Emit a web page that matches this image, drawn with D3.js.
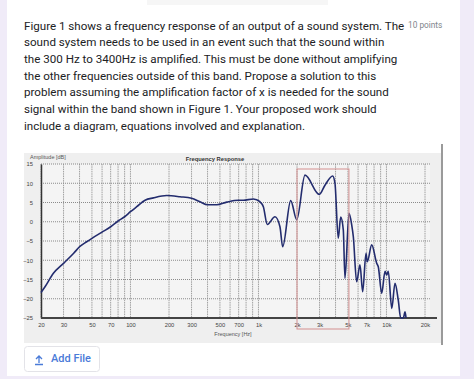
<!DOCTYPE html>
<html><head><meta charset="utf-8">
<script src="https://cdn.jsdelivr.net/npm/d3@7"></script>
<style>html,body{margin:0;padding:0;background:#f0ebf8;}svg{display:block;}</style>
</head><body>
<svg id="c" width="474" height="379"></svg>
<script>
const questionLines = [
  "Figure 1 shows a frequency response of an output of a sound system. The",
  "sound system needs to be used in an event such that the sound within",
  "the 300 Hz to 3400Hz is amplified. This must be done without amplifying",
  "the other frequencies outside of this band. Propose a solution to this",
  "problem assuming the amplification factor of x is needed for the sound",
  "signal within the band shown in Figure 1. Your proposed work should",
  "include a diagram, equations involved and explanation."
];
const pointsLabel = "10 points";
const freqHz = [20,21.5,25,30,36,40,45.5,50,60,70,80,90,100,112,130,151,192,244,300,349,400,472,565,695,761,912,1028,1092,1172,1346,1472,1546,1786,1990,2310,2988,3308,3800,3960,4200,4390,4600,4740,5100,5350,5510,5850,6210,6520,6920,7080,7670,8390,8630,9180,9740,10040,10330,11000,11660,12360,12920,13540,13970,14220];
const ampDb = [-18.4,-16.9,-13.4,-10.8,-8.2,-6.5,-5.2,-4.3,-2.7,-1.3,0.2,1.3,2.6,3.9,5.6,6.2,6.8,6.5,6.1,5.2,4.4,4.4,5.1,5.6,5.6,5.9,5.2,3.9,-0.7,1.3,-1.3,-6.5,5.5,0.5,12.1,7.1,9.5,11.9,10,-4.3,1.2,-2.1,-14.7,2.2,-0.8,-3.9,-15.6,-11.2,-18.2,-8.2,-10.4,-6.0,-10.8,-11.7,-18.6,-12.9,-13.8,-12.9,-22.5,-16,-20.3,-25,-25,-23.4,-25];
const yTicks = [15,10,5,0,-5,-10,-15,-20,-25];
const xGrid = [20,30,40,50,60,70,80,90,100,200,300,400,500,600,700,800,900,1000,2000,3000,4000,5000,6000,7000,8000,9000,10000,20000];
const xTickValues = [20,30,50,70,100,200,300,500,700,1000,2000,3000,5000,7000,10000,20000];
const xTickLabels = ["20","30","50","70","100","200","300","500","700","1k","2k","3k","5k","7k","10k","20k"];
const band = [2000, 5000];

const svg = d3.select("#c");
// card
svg.append("rect").attr("x",7).attr("y",0).attr("width",453).attr("height",376).attr("fill","#ffffff");
svg.append("rect").attr("x",147).attr("y",0).attr("width",181).attr("height",5).attr("fill","#f6f6f6");

const txt = svg.append("g").attr("font-family","Roboto, 'Open Sans', sans-serif").attr("fill","#202124");
questionLines.forEach((l,i)=>{
  txt.append("text").attr("x",24).attr("y",29.5+i*16.7).attr("font-size",11.6).text(l);
});
svg.append("text").attr("x",408).attr("y",28).attr("font-family","Roboto, sans-serif").attr("font-size",8.3).attr("fill","#80868b").text(pointsLabel);

// chart image
svg.append("rect").attr("x",24).attr("y",153).attr("width",418).attr("height",190).attr("fill","#efefef");
svg.append("line").attr("x1",442).attr("x2",442).attr("y1",144).attr("y2",345).attr("stroke","#9a9a9a").attr("stroke-width",2);

const x = d3.scaleLog().domain([20,20000]).range([41,425]);
const y = d3.scaleLinear().domain([-25,15]).range([318,164]);

const g = svg.append("g");
g.append("rect").attr("x",41).attr("y",164).attr("width",389).attr("height",154).attr("fill","#f4f4f4");
// horizontal grid
g.selectAll(".hg").data(yTicks).join("line")
  .attr("x1",41).attr("x2",430).attr("y1",d=>y(d)).attr("y2",d=>y(d))
  .attr("stroke","#707070").attr("stroke-width",0.8).attr("stroke-dasharray","1,1");
// vertical grid
g.selectAll(".vg").data(xGrid).join("line")
  .attr("x1",d=>x(d)).attr("x2",d=>x(d)).attr("y1",164).attr("y2",318)
  .attr("stroke","#8c8c8c").attr("stroke-width",0.8).attr("stroke-dasharray","1.5,0.8");

// axes
const yAxis = d3.axisLeft(y).tickValues(yTicks).tickSize(0).tickPadding(8);
const ya = g.append("g").attr("transform","translate(41,0)").call(yAxis);
ya.select(".domain").attr("stroke","#333").attr("stroke-width",1.5);
ya.selectAll("text").attr("font-size",5.8).attr("fill","#444").attr("font-family","Arial, 'Liberation Sans', sans-serif");

const xAxis = d3.axisBottom(x).tickValues(xTickValues).tickFormat((d,i)=>xTickLabels[i]).tickSize(0).tickPadding(5);
const xa = g.append("g").attr("transform","translate(0,318)").call(xAxis);
xa.select(".domain").attr("d","M41,0H437").attr("stroke","#444").attr("stroke-width",2);
xa.selectAll("text").attr("font-size",5.8).attr("fill","#444").attr("font-family","Arial, 'Liberation Sans', sans-serif");

svg.append("text").attr("x",30).attr("y",159).attr("font-size",5.5).attr("fill","#555").attr("font-family","Arial, sans-serif").text("Amplitude [dB]");
svg.append("text").attr("x",215).attr("y",161).attr("text-anchor","middle").attr("font-size",5.8).attr("font-weight","bold").attr("fill","#333").attr("font-family","Arial, sans-serif").text("Frequency Response");
svg.append("text").attr("x",233).attr("y",336).attr("text-anchor","middle").attr("font-size",5.5).attr("fill","#555").attr("font-family","Arial, sans-serif").text("Frequency [Hz]");

// band rectangle
svg.append("rect").attr("x",x(band[0])).attr("y",169).attr("width",x(band[1])-x(band[0])+1).attr("height",160)
  .attr("fill","none").attr("stroke","#d38f8f").attr("stroke-width",1);

// curve
const line = d3.line().x((d,i)=>x(freqHz[i])).y(d=>y(d)).curve(d3.curveMonotoneX);
g.append("path").attr("d",line(ampDb)).attr("fill","none").attr("stroke","#232c6e").attr("stroke-width",1.6);

// Add File button
svg.append("rect").attr("x",24.5).attr("y",346.5).attr("width",75).attr("height",25).attr("rx",3).attr("fill","#fff").attr("stroke","#e3e3e8");
const ic = svg.append("g").attr("stroke","#4a7bd8").attr("stroke-width",1.3).attr("fill","none");
ic.append("path").attr("d","M39,356 V363 M36,359 L39,356 L42,359 M35,364.5 H43");
svg.append("text").attr("x",51).attr("y",362).attr("font-family","Roboto, sans-serif").attr("font-size",11).attr("font-weight",500).attr("fill","#4a7bd8").text("Add File");
</script>
</body></html>
